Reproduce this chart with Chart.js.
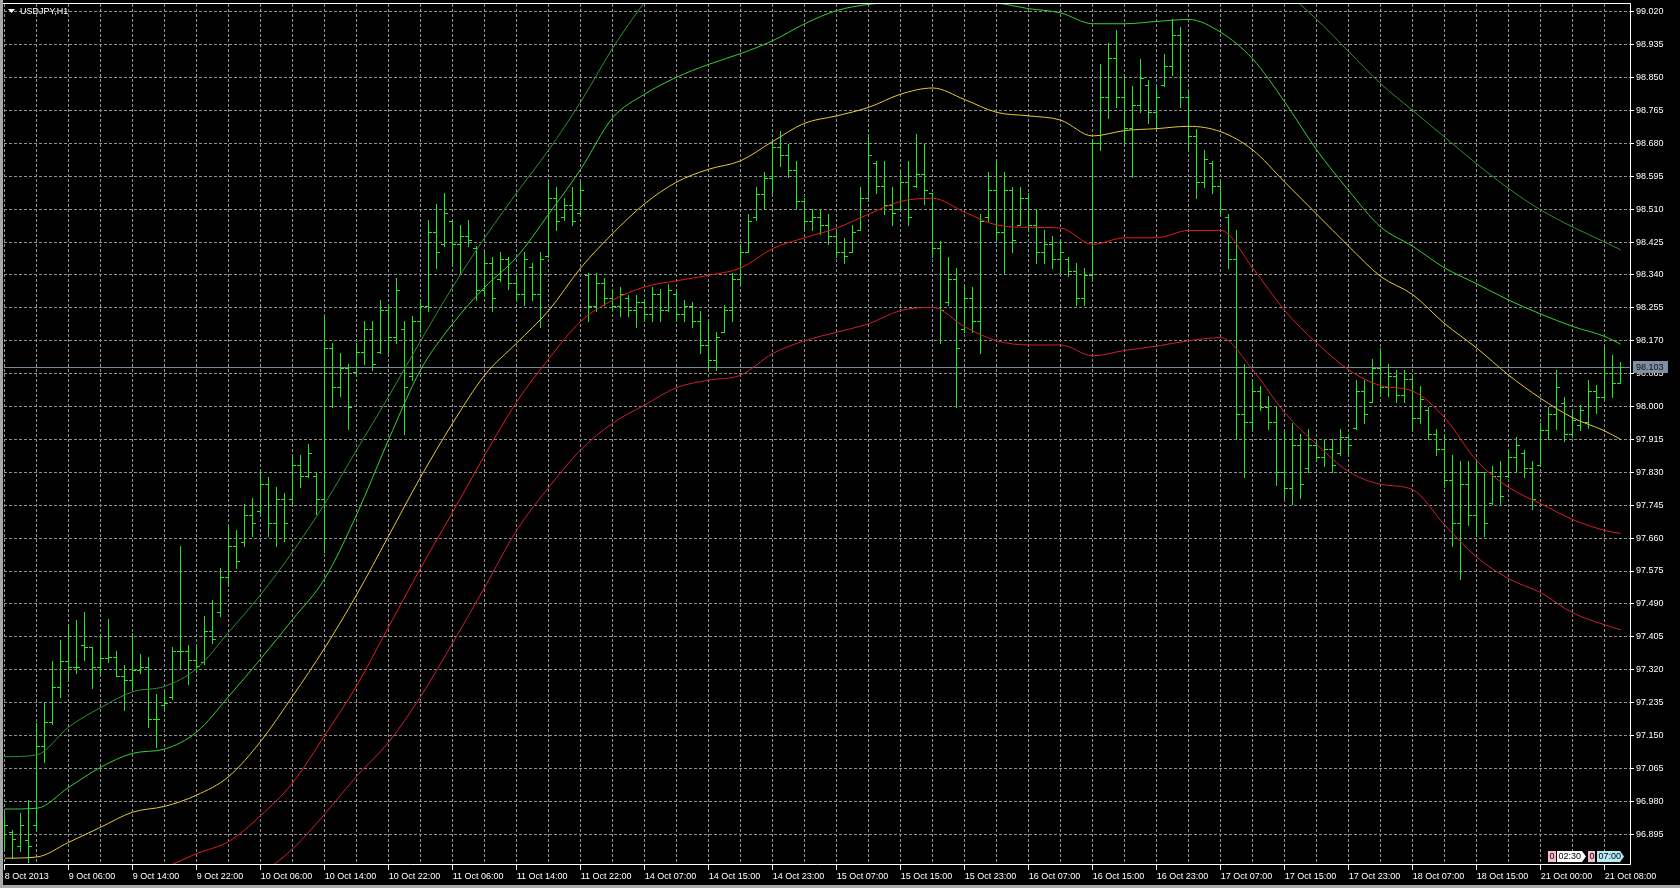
<!DOCTYPE html>
<html>
<head>
<meta charset="utf-8">
<title>USDJPY,H1</title>
<script src="https://cdn.jsdelivr.net/npm/chart.js@4.4.1/dist/chart.umd.min.js"></script>
<style>
  html, body { margin: 0; padding: 0; background: #000; overflow: hidden; }
  #wrap { width: 1680px; height: 888px; }
</style>
</head>
<body>
<div id="wrap"><canvas id="chart" width="1680" height="888"></canvas></div>
<script>
// USDJPY H1 bars, 8 Oct 22:00 .. 21 Oct 10:00
const symbolTitle = 'USDJPY,H1';
const currentPrice = 98.103;

const openPrices = [
  96.880, 96.900, 96.865, 96.880, 96.919, 97.123, 97.186, 97.276, 97.343, 97.327,
  97.384, 97.378, 97.327, 97.350, 97.353, 97.304, 97.294, 97.320, 97.327, 97.193,
  97.230, 97.250, 97.368, 97.368, 97.345, 97.340, 97.420, 97.470, 97.560, 97.640,
  97.650, 97.720, 97.730, 97.800, 97.700, 97.760, 97.760, 97.850, 97.820, 97.820,
  97.760, 98.150, 98.050, 98.100, 98.090, 98.140, 98.200, 98.140, 98.250, 98.180,
  98.200, 98.080, 98.220, 98.260, 98.450, 98.420, 98.480, 98.420, 98.440, 98.410,
  98.300, 98.370, 98.330, 98.380, 98.320, 98.290, 98.360, 98.290, 98.390, 98.540,
  98.490, 98.520, 98.500, 98.340, 98.260, 98.320, 98.280, 98.260, 98.280, 98.250,
  98.270, 98.240, 98.290, 98.250, 98.290, 98.240, 98.260, 98.220, 98.160, 98.120,
  98.192, 98.250, 98.330, 98.400, 98.490, 98.550, 98.590, 98.670, 98.650, 98.610,
  98.530, 98.480, 98.490, 98.470, 98.440, 98.400, 98.400, 98.455, 98.540, 98.630,
  98.570, 98.520, 98.510, 98.580, 98.570, 98.600, 98.552, 98.410, 98.270, 98.330,
  98.200, 98.280, 98.220, 98.490, 98.560, 98.450, 98.560, 98.470, 98.540, 98.470,
  98.400, 98.420, 98.380, 98.380, 98.350, 98.280, 98.340, 98.680, 98.800, 98.900,
  98.800, 98.720, 98.780, 98.830, 98.760, 98.830, 98.880, 98.960, 98.800, 98.700,
  98.580, 98.630, 98.570, 98.490, 98.380, 97.980, 97.960, 98.040, 98.000, 97.960,
  97.830, 97.790, 97.900, 97.840, 97.900, 97.870, 97.890, 97.880, 97.920, 97.945,
  98.040, 98.012, 98.100, 98.050, 98.080, 98.030, 98.070, 97.970, 97.990, 97.930,
  97.890, 97.810, 97.700, 97.800, 97.720, 97.830, 97.750, 97.820, 97.820, 97.870,
  97.880, 97.840, 97.850, 97.940, 97.980, 98.010, 97.930, 97.952, 97.960, 98.040,
  98.025, 98.087, 98.061
];
const highPrices = [
  96.952, 96.906, 96.949, 96.983, 97.182, 97.237, 97.343, 97.397, 97.433, 97.449,
  97.469, 97.378, 97.409, 97.451, 97.368, 97.332, 97.415, 97.360, 97.353, 97.257,
  97.266, 97.378, 97.639, 97.384, 97.378, 97.458, 97.500, 97.583, 97.694, 97.680,
  97.749, 97.763, 97.832, 97.818, 97.791, 97.777, 97.874, 97.874, 97.902, 97.832,
  98.234, 98.164, 98.137, 98.109, 98.164, 98.220, 98.220, 98.275, 98.262, 98.331,
  98.220, 98.234, 98.275, 98.483, 98.524, 98.552, 98.483, 98.469, 98.483, 98.414,
  98.400, 98.386, 98.400, 98.386, 98.344, 98.400, 98.372, 98.400, 98.580, 98.566,
  98.538, 98.566, 98.580, 98.344, 98.344, 98.331, 98.303, 98.309, 98.289, 98.289,
  98.275, 98.309, 98.303, 98.317, 98.297, 98.275, 98.270, 98.248, 98.220, 98.192,
  98.262, 98.344, 98.414, 98.497, 98.566, 98.607, 98.690, 98.712, 98.677, 98.635,
  98.538, 98.510, 98.510, 98.497, 98.455, 98.435, 98.469, 98.566, 98.704, 98.635,
  98.635, 98.566, 98.607, 98.635, 98.704, 98.677, 98.552, 98.428, 98.386, 98.358,
  98.317, 98.309, 98.497, 98.607, 98.635, 98.607, 98.566, 98.566, 98.552, 98.510,
  98.455, 98.441, 98.427, 98.386, 98.372, 98.358, 98.690, 98.884, 98.940, 98.973,
  98.857, 98.829, 98.898, 98.843, 98.829, 98.912, 99.001, 98.981, 98.815, 98.718,
  98.663, 98.635, 98.580, 98.497, 98.455, 98.109, 98.068, 98.054, 98.026, 97.998,
  97.943, 97.957, 97.929, 97.943, 97.915, 97.915, 97.915, 97.943, 97.929, 98.068,
  98.068, 98.123, 98.150, 98.109, 98.095, 98.095, 98.081, 98.054, 97.998, 97.943,
  97.929, 97.874, 97.860, 97.860, 97.860, 97.832, 97.846, 97.860, 97.888, 97.921,
  97.888, 97.860, 97.957, 97.998, 98.095, 98.024, 97.988, 98.004, 98.069, 98.056,
  98.159, 98.133, 98.116
];
const lowPrices = [
  96.854, 96.834, 96.852, 96.823, 96.909, 97.082, 97.181, 97.250, 97.296, 97.312,
  97.345, 97.272, 97.306, 97.340, 97.304, 97.216, 97.270, 97.312, 97.172, 97.120,
  97.216, 97.244, 97.324, 97.283, 97.315, 97.334, 97.389, 97.458, 97.542, 97.583,
  97.639, 97.666, 97.722, 97.666, 97.639, 97.652, 97.749, 97.791, 97.818, 97.722,
  97.625, 97.998, 98.026, 97.943, 98.081, 98.109, 98.095, 98.137, 98.137, 98.164,
  97.929, 98.068, 98.192, 98.248, 98.358, 98.414, 98.372, 98.344, 98.414, 98.275,
  98.289, 98.248, 98.324, 98.303, 98.275, 98.262, 98.275, 98.206, 98.386, 98.455,
  98.483, 98.469, 98.497, 98.220, 98.248, 98.262, 98.248, 98.234, 98.234, 98.206,
  98.220, 98.220, 98.220, 98.248, 98.220, 98.220, 98.206, 98.137, 98.095, 98.095,
  98.192, 98.220, 98.317, 98.400, 98.483, 98.510, 98.552, 98.621, 98.593, 98.510,
  98.455, 98.455, 98.446, 98.419, 98.386, 98.372, 98.400, 98.455, 98.538, 98.552,
  98.497, 98.469, 98.510, 98.469, 98.566, 98.524, 98.386, 98.164, 98.262, 97.998,
  98.192, 98.192, 98.137, 98.480, 98.427, 98.344, 98.400, 98.469, 98.455, 98.372,
  98.372, 98.358, 98.344, 98.336, 98.262, 98.262, 98.331, 98.663, 98.746, 98.773,
  98.677, 98.593, 98.760, 98.732, 98.718, 98.829, 98.857, 98.773, 98.663, 98.538,
  98.566, 98.552, 98.497, 98.358, 97.915, 97.818, 97.943, 97.992, 97.943, 97.798,
  97.763, 97.749, 97.763, 97.832, 97.860, 97.846, 97.832, 97.874, 97.874, 97.943,
  97.957, 98.012, 98.026, 98.026, 98.012, 98.012, 97.943, 97.957, 97.915, 97.874,
  97.791, 97.639, 97.555, 97.694, 97.666, 97.666, 97.749, 97.749, 97.818, 97.832,
  97.818, 97.735, 97.846, 97.915, 97.943, 97.911, 97.921, 97.940, 97.945, 97.983,
  98.017, 98.025, 98.061
];
const closePrices = [
  96.919, 96.883, 96.919, 96.865, 97.123, 97.186, 97.276, 97.343, 97.327, 97.327,
  97.378, 97.327, 97.350, 97.353, 97.304, 97.294, 97.320, 97.327, 97.193, 97.193,
  97.235, 97.368, 97.368, 97.345, 97.330, 97.420, 97.400, 97.560, 97.640, 97.600,
  97.720, 97.700, 97.800, 97.700, 97.760, 97.700, 97.850, 97.820, 97.880, 97.760,
  98.150, 98.050, 98.100, 98.000, 98.140, 98.200, 98.110, 98.250, 98.180, 98.300,
  98.050, 98.220, 98.260, 98.450, 98.400, 98.500, 98.420, 98.440, 98.430, 98.300,
  98.370, 98.280, 98.380, 98.320, 98.290, 98.380, 98.290, 98.380, 98.540, 98.480,
  98.520, 98.480, 98.560, 98.260, 98.320, 98.280, 98.260, 98.290, 98.250, 98.270,
  98.240, 98.290, 98.250, 98.300, 98.240, 98.260, 98.220, 98.160, 98.120, 98.180,
  98.250, 98.330, 98.400, 98.480, 98.550, 98.590, 98.670, 98.650, 98.610, 98.530,
  98.480, 98.490, 98.470, 98.440, 98.400, 98.390, 98.450, 98.540, 98.650, 98.570,
  98.520, 98.500, 98.580, 98.490, 98.600, 98.560, 98.410, 98.250, 98.330, 98.150,
  98.280, 98.220, 98.480, 98.560, 98.450, 98.560, 98.430, 98.540, 98.470, 98.400,
  98.420, 98.380, 98.400, 98.350, 98.280, 98.340, 98.680, 98.800, 98.900, 98.800,
  98.720, 98.780, 98.850, 98.760, 98.800, 98.880, 98.960, 98.800, 98.700, 98.580,
  98.640, 98.570, 98.510, 98.380, 97.980, 97.960, 98.040, 98.000, 97.960, 97.830,
  97.790, 97.900, 97.800, 97.900, 97.870, 97.890, 97.850, 97.920, 97.900, 98.040,
  97.980, 98.100, 98.050, 98.080, 98.030, 98.070, 97.970, 98.020, 97.930, 97.890,
  97.810, 97.700, 97.800, 97.720, 97.830, 97.700, 97.820, 97.770, 97.870, 97.900,
  97.840, 97.760, 97.940, 97.980, 98.050, 97.930, 97.965, 97.990, 98.040, 98.025,
  98.087, 98.061, 98.103
];

// indicator lines, read every 4th bar (+ last bar)
const bandBars = [
  0, 4, 8, 12, 16, 20, 24, 28, 32, 36, 40, 44, 48, 52, 56, 60, 64, 68, 72, 76,
  80, 84, 88, 92, 96, 100, 104, 108, 112, 116, 120, 124, 128, 132, 136, 140, 144, 148, 152, 156,
  160, 164, 168, 172, 176, 180, 184, 188, 192, 196, 200, 202
];
const upperOuter = [
  97.095, 97.100, 97.172, 97.222, 97.263, 97.277, 97.323, 97.417, 97.514, 97.625,
  97.749, 97.888, 98.026, 98.170, 98.309, 98.436, 98.552, 98.663, 98.787, 98.926,
  99.045, 99.147, 99.220, 99.280, 99.330, 99.370, 99.400, 99.420, 99.430, 99.430,
  99.420, 99.400, 99.380, 99.350, 99.320, 99.300, 99.280, 99.250, 99.200, 99.130,
  99.073, 99.000, 98.917, 98.834, 98.765, 98.696, 98.627, 98.563, 98.508, 98.464,
  98.425, 98.405
];
const upperInner = [
  96.960, 96.962, 97.016, 97.068, 97.104, 97.115, 97.159, 97.251, 97.348, 97.450,
  97.555, 97.721, 97.915, 98.095, 98.214, 98.308, 98.386, 98.497, 98.613, 98.746,
  98.807, 98.851, 98.884, 98.912, 98.945, 98.989, 99.023, 99.039, 99.045, 99.045,
  99.044, 99.042, 99.028, 99.017, 98.989, 98.989, 98.995, 99.000, 98.967, 98.898,
  98.787, 98.663, 98.558, 98.464, 98.414, 98.358, 98.317, 98.275, 98.239, 98.207,
  98.181, 98.161
];
const middleBand = [
  96.833, 96.836, 96.874, 96.913, 96.952, 96.967, 96.996, 97.044, 97.135, 97.252,
  97.376, 97.514, 97.666, 97.818, 97.957, 98.081, 98.164, 98.248, 98.358, 98.447,
  98.524, 98.580, 98.613, 98.635, 98.685, 98.732, 98.751, 98.773, 98.807, 98.823,
  98.793, 98.760, 98.751, 98.740, 98.699, 98.713, 98.718, 98.724, 98.710, 98.663,
  98.580, 98.497, 98.414, 98.336, 98.289, 98.214, 98.151, 98.081, 98.021, 97.971,
  97.937, 97.915
];
const lowerInner = [
  96.600, 96.640, 96.690, 96.730, 96.770, 96.808, 96.845, 96.876, 96.943, 97.028,
  97.150, 97.279, 97.431, 97.583, 97.727, 97.874, 98.012, 98.123, 98.220, 98.275,
  98.309, 98.325, 98.339, 98.358, 98.408, 98.436, 98.461, 98.497, 98.530, 98.538,
  98.502, 98.469, 98.463, 98.461, 98.419, 98.436, 98.436, 98.455, 98.455, 98.358,
  98.248, 98.164, 98.095, 98.054, 98.040, 97.971, 97.860, 97.791, 97.749, 97.708,
  97.680, 97.672
];
const lowerOuter = [
  96.350, 96.400, 96.450, 96.500, 96.550, 96.600, 96.660, 96.720, 96.790, 96.857,
  96.947, 97.045, 97.133, 97.251, 97.389, 97.533, 97.680, 97.791, 97.888, 97.957,
  98.004, 98.049, 98.068, 98.081, 98.137, 98.170, 98.192, 98.214, 98.248, 98.256,
  98.206, 98.170, 98.159, 98.159, 98.131, 98.145, 98.156, 98.170, 98.178, 98.095,
  97.984, 97.902, 97.832, 97.799, 97.785, 97.694, 97.611, 97.555, 97.519, 97.467,
  97.436, 97.423
];

// axis labels
const timeLabels = [
  '8 Oct 2013', '9 Oct 06:00', '9 Oct 14:00', '9 Oct 22:00', '10 Oct 06:00',
  '10 Oct 14:00', '10 Oct 22:00', '11 Oct 06:00', '11 Oct 14:00', '11 Oct 22:00',
  '14 Oct 07:00', '14 Oct 15:00', '14 Oct 23:00', '15 Oct 07:00', '15 Oct 15:00',
  '15 Oct 23:00', '16 Oct 07:00', '16 Oct 15:00', '16 Oct 23:00', '17 Oct 07:00',
  '17 Oct 15:00', '17 Oct 23:00', '18 Oct 07:00', '18 Oct 15:00', '21 Oct 00:00',
  '21 Oct 08:00'
];
const priceTicks = [
  99.020, 98.935, 98.850, 98.765, 98.680, 98.595, 98.510, 98.425, 98.340, 98.255,
  98.170, 98.085, 98.000, 97.915, 97.830, 97.745, 97.660, 97.575, 97.490, 97.405,
  97.320, 97.235, 97.150, 97.065, 96.980, 96.895
];
const timerLabels = ['0', '02:30', '0', '07:00'];

const FONT = 'Liberation Sans';
const GRID = '#8f8f8f';
const BAR_COLOR = '#27e627';

function band(values) {
  return values.map((v, i) => ({ x: bandBars[i], y: v }));
}

// OHLC bars + current price line, drawn through the chart scales
const ohlcPlugin = {
  id: 'ohlc',
  beforeDatasetsDraw(chart) {
    const { ctx, chartArea: a, scales: { x, y } } = chart;
    ctx.save();
    ctx.beginPath();
    ctx.rect(a.left, a.top, a.right - a.left, a.bottom - a.top);
    ctx.clip();

    // bid line
    const py = Math.round(y.getPixelForValue(currentPrice)) + 0.5;
    ctx.strokeStyle = '#778899';
    ctx.lineWidth = 1;
    ctx.beginPath();
    ctx.moveTo(a.left, py);
    ctx.lineTo(a.right, py);
    ctx.stroke();

    ctx.strokeStyle = BAR_COLOR;
    ctx.beginPath();
    for (let i = 0; i < openPrices.length; i++) {
      const c = Math.round(x.getPixelForValue(i) - 0.5);
      const yh = Math.round(y.getPixelForValue(highPrices[i]));
      const yl = Math.round(y.getPixelForValue(lowPrices[i]));
      const yo = Math.round(y.getPixelForValue(openPrices[i])) + 0.5;
      const yc = Math.round(y.getPixelForValue(closePrices[i])) + 0.5;
      ctx.moveTo(c + 0.5, yh);
      ctx.lineTo(c + 0.5, yl + 1);
      ctx.moveTo(c - 3, yo);
      ctx.lineTo(c, yo);
      ctx.moveTo(c + 1, yc);
      ctx.lineTo(c + 4, yc);
    }
    ctx.stroke();
    ctx.restore();
  },
  afterDraw(chart) {
    const { ctx, chartArea: a, scales: { y } } = chart;
    ctx.save();
    // window frame
    ctx.fillStyle = '#a8a8a8';
    ctx.fillRect(0, 0, 3, chart.height);
    ctx.fillRect(0, chart.height - 3, chart.width, 3);
    ctx.strokeStyle = '#ffffff';
    ctx.lineWidth = 1;
    ctx.beginPath();
    ctx.moveTo(3, a.top - 0.5);
    ctx.lineTo(a.right + 1, a.top - 0.5);
    ctx.stroke();

    // title
    ctx.fillStyle = '#ffffff';
    ctx.beginPath();
    ctx.moveTo(8, 9);
    ctx.lineTo(15, 9);
    ctx.lineTo(11.5, 13);
    ctx.closePath();
    ctx.fill();
    ctx.font = '9px ' + FONT;
    ctx.textBaseline = 'middle';
    ctx.textAlign = 'left';
    ctx.fillText(symbolTitle, 20, 11.5);

    // bid label on the price axis
    const py = Math.round(y.getPixelForValue(currentPrice));
    ctx.fillStyle = '#7f8fa1';
    ctx.fillRect(a.right + 3, py - 6, 35, 12);
    ctx.fillStyle = '#101010';
    ctx.fillText(currentPrice.toFixed(3), a.right + 6, py + 0.5);

    // timer boxes, bottom right of the chart window
    const by = a.bottom - 13;
    const boxes = [
      { x: a.right - 82, w: 8, fill: '#f4bccb', text: timerLabels[0] },
      { x: a.right - 73, w: 25, fill: '#ffffff', text: timerLabels[1], arrow: true },
      { x: a.right - 42, w: 7, fill: '#f4bccb', text: timerLabels[2] },
      { x: a.right - 33, w: 23, fill: '#b4ecf4', text: timerLabels[3], arrow: true }
    ];
    boxes.forEach(b => {
      ctx.fillStyle = b.fill;
      ctx.beginPath();
      ctx.moveTo(b.x, by);
      ctx.lineTo(b.x + b.w, by);
      if (b.arrow) ctx.lineTo(b.x + b.w + 4, by + 5.5);
      ctx.lineTo(b.x + b.w, by + 11);
      ctx.lineTo(b.x, by + 11);
      ctx.closePath();
      ctx.fill();
      ctx.fillStyle = '#000000';
      ctx.fillText(b.text, b.x + 1.5, by + 6);
    });
    ctx.restore();
  }
};

new Chart(document.getElementById('chart'), {
  type: 'line',
  data: {
    datasets: [
      { data: band(upperOuter), borderColor: '#2f8f2f' },
      { data: band(upperInner), borderColor: '#34d034' },
      { data: band(middleBand), borderColor: '#e8c834' },
      { data: band(lowerInner), borderColor: '#e01c1c' },
      { data: band(lowerOuter), borderColor: '#cc1f36' }
    ].map(d => Object.assign(d, {
      borderWidth: 1, pointRadius: 0, fill: false, cubicInterpolationMode: 'monotone'
    }))
  },
  options: {
    responsive: false,
    animation: false,
    devicePixelRatio: 1,
    events: [],
    layout: { padding: { left: 4, top: 4, right: 0, bottom: 0 } },
    plugins: { legend: { display: false }, tooltip: { enabled: false } },
    scales: {
      x: {
        type: 'linear',
        min: -0.0875,
        max: 203.1625,
        afterBuildTicks: s => { s.ticks = timeLabels.flatMap((_, k) => [k * 8, k * 8 + 4]).filter(v => v <= 200).map(v => ({ value: v })); },
        afterFit: s => { s.height = 24; s.paddingLeft = 0; s.paddingRight = 0; },
        grid: {
          color: GRID,
          lineWidth: 1,
          tickLength: 6,
          tickColor: c => (c.index % 2 === 0 ? '#ffffff' : 'rgba(0,0,0,0)'),
          tickBorderDash: []
        },
        border: { display: true, color: '#ffffff', dash: [3, 2] },
        ticks: {
          autoSkip: false,
          maxRotation: 0,
          align: 'start',
          padding: 1,
          color: '#ffffff',
          font: { family: FONT, size: 9 },
          callback: (v, i) => (i % 2 === 0 ? timeLabels[i / 2] : '')
        }
      },
      y: {
        type: 'linear',
        position: 'right',
        min: 96.818,
        max: 99.040,
        afterBuildTicks: s => { s.ticks = priceTicks.map(v => ({ value: v })); },
        afterFit: s => { s.width = 50; s.paddingTop = 0; s.paddingBottom = 0; },
        grid: {
          color: GRID,
          lineWidth: 1,
          tickLength: 4,
          tickColor: '#ffffff',
          tickBorderDash: []
        },
        border: { display: true, color: '#ffffff', dash: [3, 2] },
        ticks: {
          autoSkip: false,
          padding: 2,
          color: '#ffffff',
          font: { family: FONT, size: 9 },
          callback: v => v.toFixed(3)
        }
      }
    }
  },
  plugins: [ohlcPlugin]
});
</script>
</body>
</html>
